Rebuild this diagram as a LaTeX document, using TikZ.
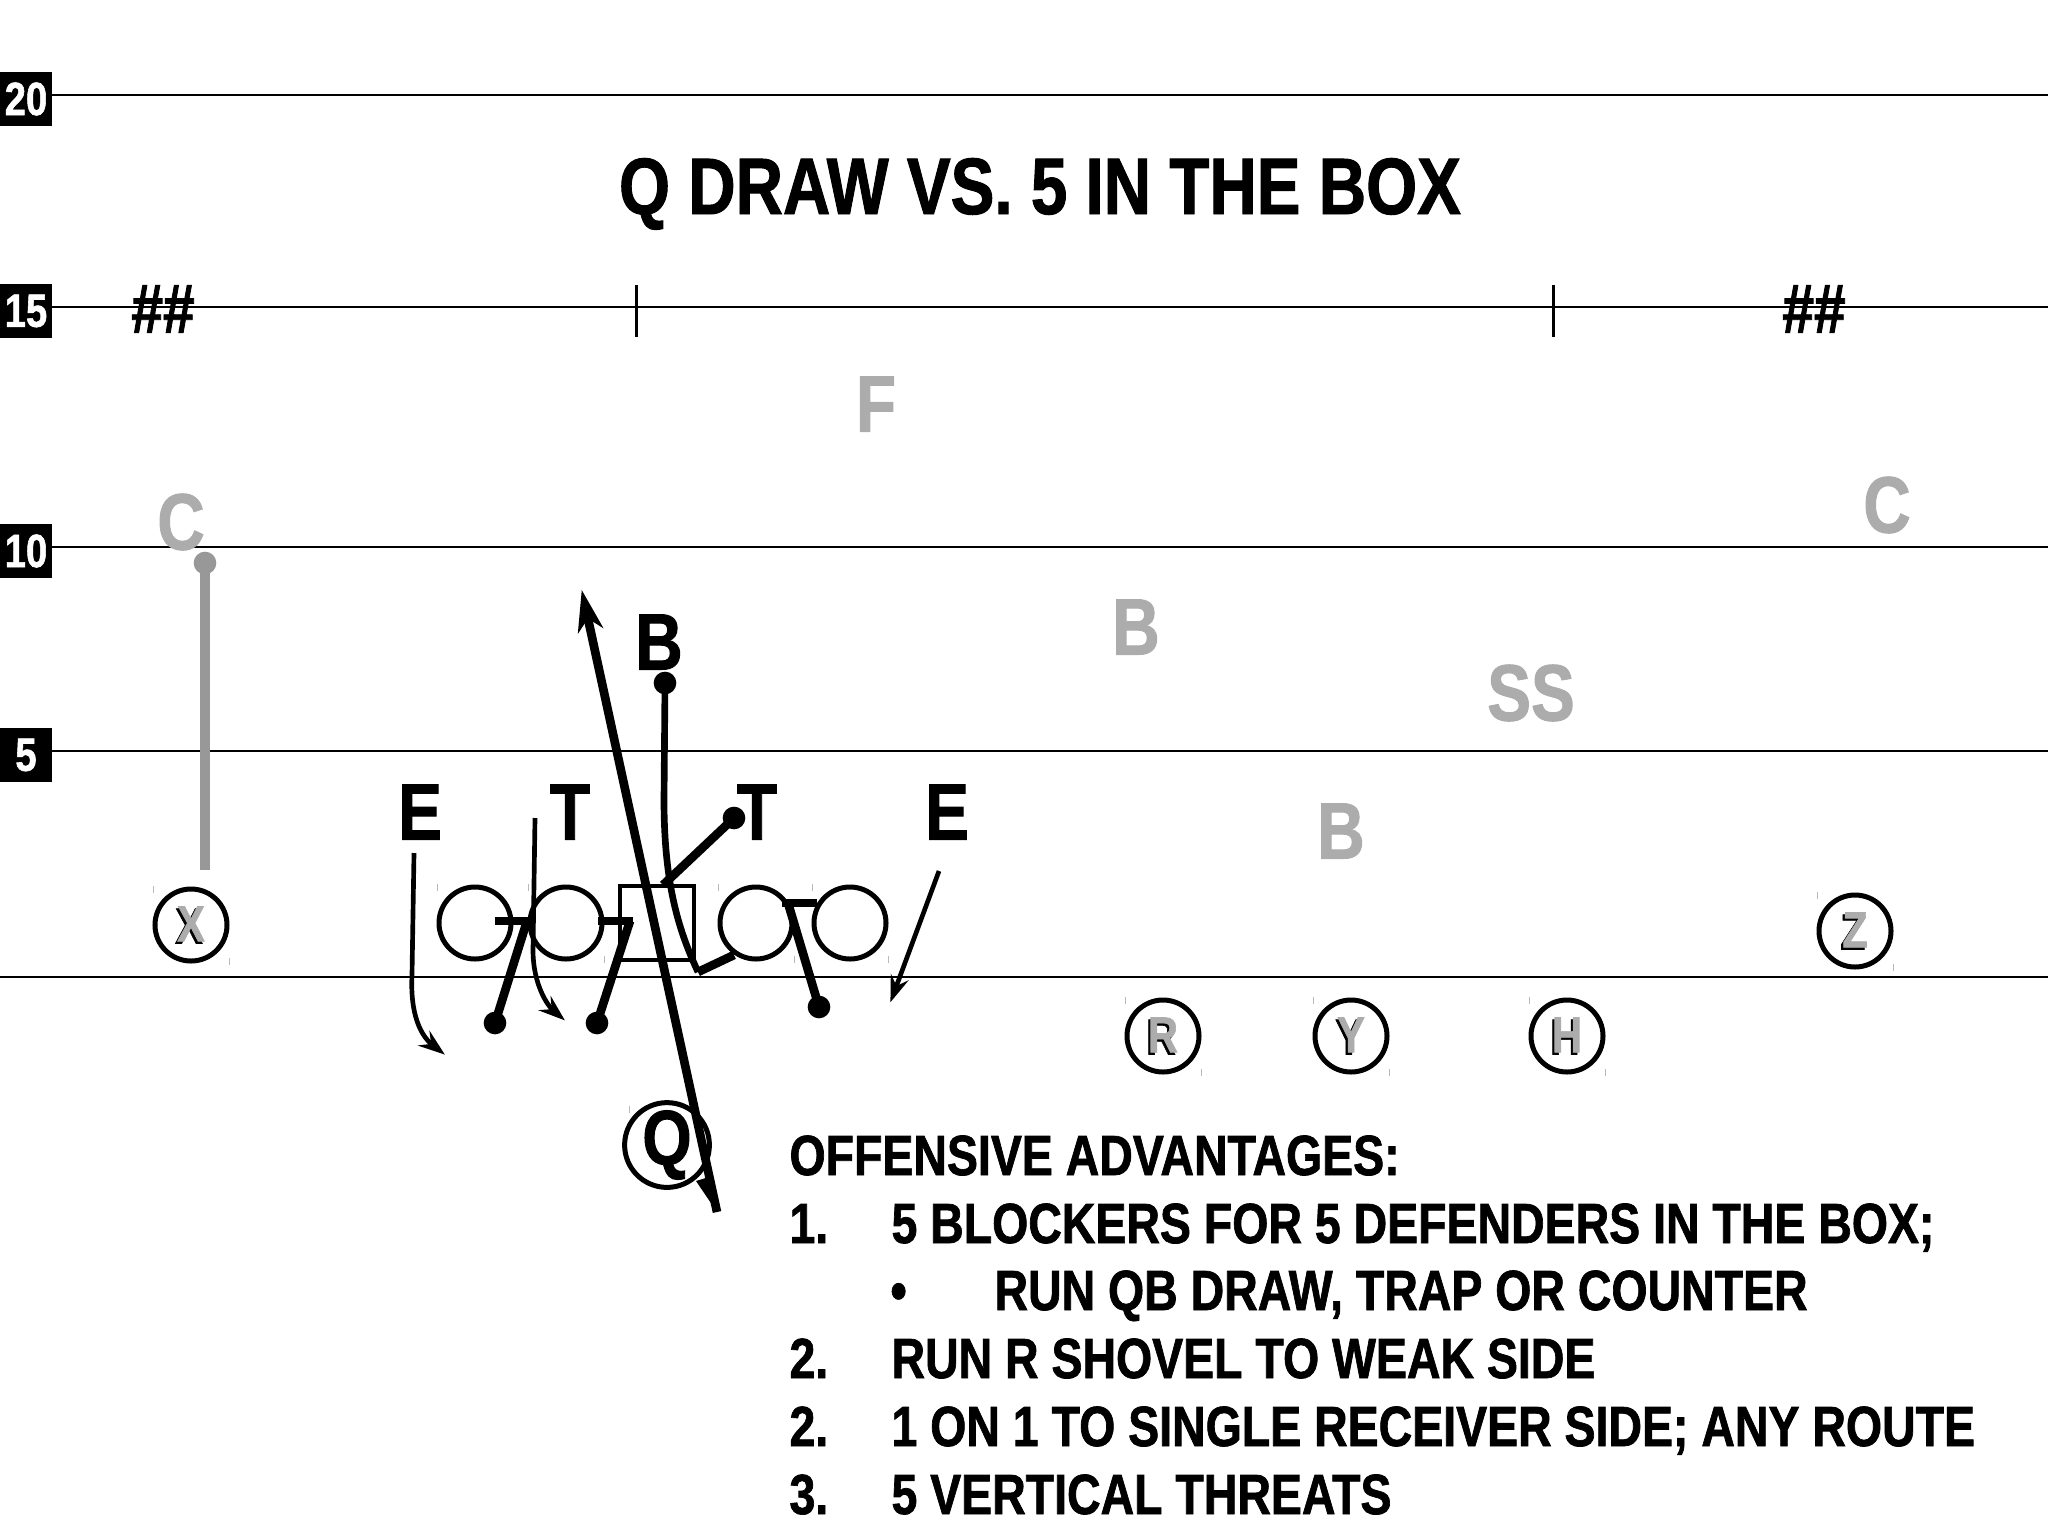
\documentclass[tikz,border=0pt]{standalone}
\usepackage{fontspec}
\usetikzlibrary{arrows.meta}
\newfontfamily\playfont{Liberation Sans}[FakeStretch=0.82,FakeBold=1.2]

\definecolor{defgray}{RGB}{172,172,172}
\definecolor{routegray}{RGB}{152,152,152}
\definecolor{tickgray}{RGB}{185,185,185}

% gray letter with a dark drop shadow
\newcommand{\shadowlet}[1]{\makebox[0pt][l]{\hspace*{-1.6pt}\raisebox{-1.6pt}{#1}}\textcolor{defgray}{#1}}

\tikzset{every picture/.style={line width=0.75pt},
  yardnum/.style={fill=black,text=white,inner sep=0pt,minimum width=39pt,minimum height=40pt,font=\playfont\bfseries\fontsize{35}{35}\selectfont},
  yardline/.style={line width=1.5pt},
  hashtick/.style={line width=2.25pt},
  hashmark/.style={inner sep=0pt,font=\playfont\bfseries\fontsize{52}{52}\selectfont},
  defletter/.style={inner sep=0pt,font=\playfont\bfseries\fontsize{60}{60}\selectfont},
  zonedef/.style={defletter,text=defgray},
  lineman/.style={circle,draw,line width=3.75pt,minimum size=54pt,inner sep=0pt},
  centerbox/.style={rectangle,draw,line width=3pt,minimum width=56pt,minimum height=55pt,inner sep=0pt},
  skill/.style={circle,draw,line width=3.75pt,minimum size=54pt,inner sep=0pt,font=\playfont\bfseries\fontsize{38}{38}\selectfont},
  blockline/.style={line width=6.5pt},
  routeline/.style={line width=3.5pt,-{Stealth[length=20pt,width=14pt,inset=7pt,sep=3pt]}},
  enddot/.style={circle,fill=black,inner sep=0pt,minimum size=17pt},
  advtext/.style={anchor=base west,inner sep=0pt,font=\playfont\bfseries\fontsize{42.5}{44}\selectfont},
  cornertick/.style={draw=tickgray,line width=0.75pt}
}

\begin{document}
\begin{tikzpicture}[x=0.75pt,y=0.75pt,yscale=-1,xscale=1]
\useasboundingbox (0,0) rectangle (2048,1536);

%Yard lines and numbers
\foreach \yl/\num in {95/20,307/15,547/10,751/5}{
  \draw [yardline] (52,\yl) -- (2048,\yl);
  \node [yardnum] (yd\num) at (26,\yl+4) {\num};
}
%Line of scrimmage
\draw [yardline] (0,977) -- (2048,977);

%Hash marks
\draw [hashtick] (636,285) -- (636,337);
\draw [hashtick] (1553,285) -- (1553,337);
\node [hashmark] (hashL) at (163,309) {\#\#};
\node [hashmark] (hashR) at (1814,309) {\#\#};

% Text Node
\node [anchor=base,inner sep=0pt,font=\playfont\bfseries\fontsize{60}{60}\selectfont] (title) at (1040,214) {Q DRAW VS. 5 IN THE BOX};

%Defense, zone players
\node [zonedef] (cbL) at (181,522) {C};
\node [zonedef] (fs) at (876,404) {F};
\node [zonedef] (cbR) at (1887,505) {C};
\node [zonedef] (lbW) at (1136,627) {B};
\node [zonedef] (ss) at (1531,693) {SS};
\node [zonedef] (lbS) at (1341,831) {B};

%Defense, box players
\node [defletter] (endL) at (420,812) {E};
\node [defletter] (tackL) at (570,812) {T};
\node [defletter] (tackR) at (757,812) {T};
\node [defletter] (endR) at (947,812) {E};
\node [defletter] (mike) at (659,642) {B};

%Offensive line
\node [lineman] (lt) at (475,923) {};
\node [lineman] (lg) at (566,923) {};
\node [centerbox] (ctr) at (657,923) {};
\node [lineman] (rg) at (756,923) {};
\node [lineman] (rt) at (850,923) {};

%Skill players
\node [skill] (wrX) at (191,925) {\shadowlet{X}};
\node [skill] (wrZ) at (1855,931) {\shadowlet{Z}};
\node [skill] (rb) at (1163,1036) {\shadowlet{R}};
\node [skill] (te) at (1351,1036) {\shadowlet{Y}};
\node [skill] (hb) at (1567,1036) {\shadowlet{H}};
\node [skill,font=\playfont\bfseries\fontsize{58}{58}\selectfont] (qb) at (667,1145) {Q};

%Corner ticks
\foreach \cx/\cy in {475/923,566/923,756/923,850/923,191/925,1855/931,1163/1036,1351/1036,1567/1036,667/1145}{
  \draw [cornertick] (\cx-38,\cy-39) -- (\cx-38,\cy-32);
  \draw [cornertick] (\cx+38,\cy+33) -- (\cx+38,\cy+40);
}

%Corner drop
\node [enddot,fill=routegray] (dotC) at (205,563) {};
\coordinate (cEnd) at (205,870);
\draw [draw=routegray,line width=7.5pt] (dotC.center) -- (cEnd);

%Q draw
\coordinate (qStart) at (717,1212);
\coordinate (qEnd) at (580,582);
\draw [line width=6.5pt,-{Stealth[length=31pt,width=19pt,inset=9pt,sep=6pt]}] (qStart) -- (qEnd);
\fill (696,1181) -- (712,1176) -- (qStart) -- cycle;

%Mike scrape
\node [enddot] (dotMB) at (665,683) {};
\coordinate (mbTurn) at (664,800);
\coordinate (mbEnd) at (698,972);
\coordinate (mbBar) at (734,955);
\draw [line width=5pt] (dotMB.center) -- (mbTurn) .. controls (664,890) and (681,935) .. (mbEnd);
\draw [blockline] (mbEnd) -- (mbBar);

%Center to tackle
\node [enddot] (dotTR) at (734,818) {};
\coordinate (ctrTop) at (663,885);
\draw [blockline] (ctrTop) -- (dotTR.center);

%Blocks
\node [enddot] (dotLT) at (495,1023) {};
\coordinate (ltHit) at (527,921);
\draw [blockline] (dotLT.center) -- (ltHit);
\draw [blockline] (495,921) -- (ltHit) -- +(3,0);
\node [enddot] (dotLG) at (597,1023) {};
\coordinate (lgHit) at (630,921);
\draw [blockline] (dotLG.center) -- (lgHit);
\draw [blockline] (598,921) -- (lgHit) -- +(3,0);
\node [enddot] (dotRG) at (819,1007) {};
\coordinate (rgHit) at (788,903);
\draw [blockline] (dotRG.center) -- (rgHit);
\draw [blockline] (782,903) -- (817,903);

%Line stunts
\coordinate (elStart) at (414,853);
\coordinate (elEnd) at (448,1057);
\draw [routeline] (elStart) -- (412,975) .. controls (410,1015) and (421,1036) .. (elEnd);
\coordinate (tlStart) at (535,818);
\coordinate (tlEnd) at (568,1023);
\draw [routeline] (tlStart) -- (533,950) .. controls (533,985) and (548,1006) .. (tlEnd);
\coordinate (erStart) at (939,871);
\coordinate (erEnd) at (889,1006);
\draw [routeline] (erStart) -- (erEnd);

% Text Node
\node [advtext] (advHead) at (789,1175) {OFFENSIVE ADVANTAGES:};
\node [advtext] (advNa) at (789,1243) {1.};
\node [advtext] (advA) at (891,1243) {5 BLOCKERS FOR 5 DEFENDERS IN THE BOX;};
\node [advtext] (advDot) at (890,1310) {\textbullet};
\node [advtext] (advAa) at (994,1310) {RUN QB DRAW, TRAP OR COUNTER};
\node [advtext] (advNb) at (789,1378) {2.};
\node [advtext] (advB) at (891,1378) {RUN R SHOVEL TO WEAK SIDE};
\node [advtext] (advNc) at (789,1446) {2.};
\node [advtext] (advC) at (891,1446) {1 ON 1 TO SINGLE RECEIVER SIDE; ANY ROUTE};
\node [advtext] (advNd) at (789,1514) {3.};
\node [advtext] (advD) at (891,1514) {5 VERTICAL THREATS};

\end{tikzpicture}
\end{document}
